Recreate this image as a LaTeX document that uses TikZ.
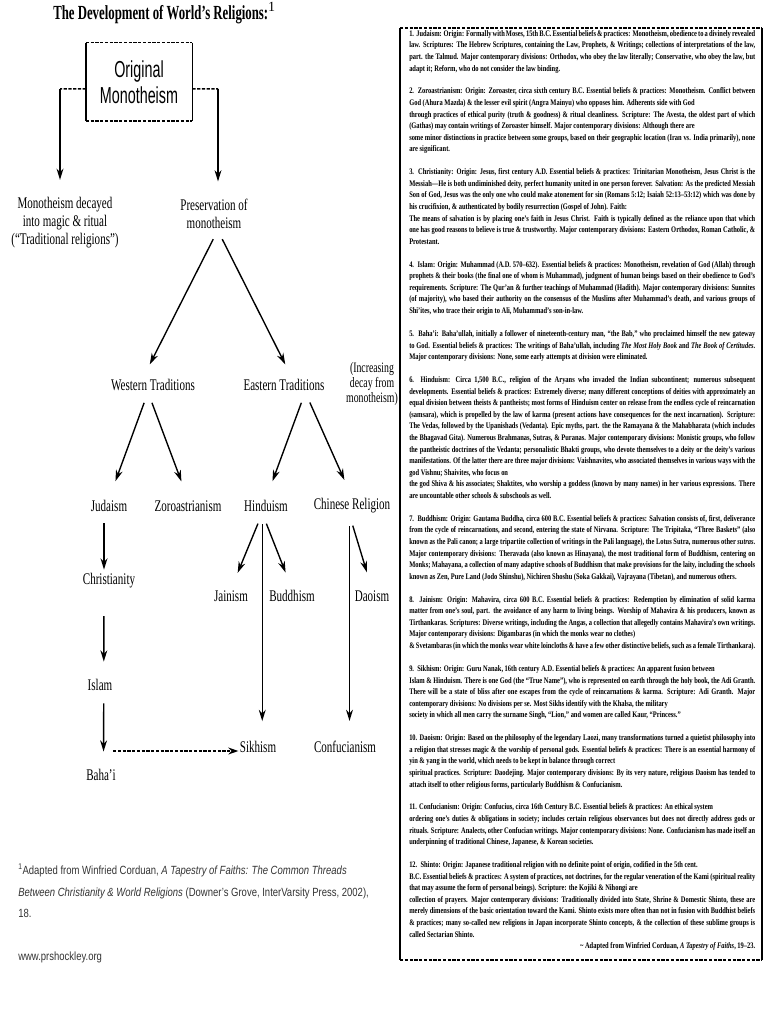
\documentclass[tikz,border=0pt]{standalone}
\usepackage{fontspec}
\setmainfont{Liberation Serif}
\newfontfamily\titlefont[FakeStretch=0.64]{Liberation Serif}
\newfontfamily\labelfont[FakeStretch=0.68]{Liberation Serif}
\newfontfamily\boxfont[FakeStretch=0.62]{Liberation Sans}
\newfontfamily\notefont[FakeStretch=0.76]{Liberation Serif}
\newfontfamily\footfont[FakeStretch=0.8]{Liberation Sans}
\usetikzlibrary{arrows.meta}

\begin{document}
\begin{tikzpicture}[x=0.8pt,y=-0.8pt,
  lbl/.style={font=\labelfont\fontsize{13}{14.4}\selectfont,inner sep=1pt,align=center},
  arr/.style={line width=1.1pt,-{Stealth[length=9pt,width=5.5pt]}},
  dashln/.style={line width=1.2pt,dash pattern=on 2.6pt off 1.2pt}]
\useasboundingbox (0,0) rectangle (768,1024);

% Title.
\node[font=\titlefont\bfseries\fontsize{16}{18}\selectfont,anchor=west,inner sep=0pt] (title) at (53,13)
  {The Development of World’s Religions:\textsuperscript{\normalfont 1}};

% Original box: solid sides, dashed top and bottom.
\node[font=\boxfont\fontsize{18.5}{21}\selectfont,align=center,minimum width=84.8pt,minimum height=62.4pt] (orig) at (139,82) {Original\\Monotheism};
\draw[line width=1.2pt] (orig.north west) -- (orig.south west) (orig.north east) -- (orig.south east);
\draw[dashln] (orig.north west) -- (orig.north east) (orig.south west) -- (orig.south east);

% First split.
\node[lbl] (decay) at (65,223) {Monotheism decayed\\into magic \& ritual\\(“Traditional religions”)};
\node[lbl] (pres) at (214,214) {Preservation of\\monotheism};
\coordinate (kL) at (60,89);
\coordinate (kR) at (218,89);
\draw[dashln] ([yshift=-5.6pt]orig.west) -- (kL);
\draw[dashln] ([yshift=-5.6pt]orig.east) -- (kR);
\draw[arr,shorten >=13pt] (kL) -- (kL |- decay.north);
\draw[arr,shorten >=13pt] (kR) -- (kR |- pres.north);

% Traditions.
\node[lbl] (west) at (153,385) {Western Traditions};
\node[lbl] (east) at (284,385) {Eastern Traditions};
\node[lbl,font=\labelfont\fontsize{11.5}{12}\selectfont] (decnote) at (372,384) {(Increasing\\decay from\\monotheism)};
\draw[arr,shorten <=8pt,shorten >=12pt] ([xshift=3pt]pres.south) -- ([xshift=-8pt]west.north);
\draw[arr,shorten <=8pt,shorten >=12pt] ([xshift=3pt]pres.south) -- ([xshift=6.4pt]east.north);

% Religions.
\node[lbl] (jud) at (109,506) {Judaism};
\node[lbl] (zor) at (188,506) {Zoroastrianism};
\node[lbl] (hin) at (266,506) {Hinduism};
\node[lbl] (chi) at (352,506) {Chinese Religion};
\draw[arr,shorten <=9pt,shorten >=15pt] ([xshift=-4pt]west.south) -- (jud.north);
\draw[arr,shorten <=9pt,shorten >=15pt] ([xshift=-4pt]west.south) -- (zor.north);
\draw[arr,shorten <=9pt,shorten >=15pt] ([xshift=17pt]east.south) -- (hin.north);
\draw[arr,shorten <=9pt,shorten >=15pt] ([xshift=17pt]east.south) -- (chi.north);

% Western line.
\node[lbl] (chr) at (109,581) {Christianity};
\node[lbl] (isl) at (100,685) {Islam};
\node[lbl] (bah) at (101,775) {Baha’i};
\draw[arr,shorten <=8pt,shorten >=2pt] ([xshift=-4pt]jud.south) -- ([xshift=-4pt]chr.north);
\draw[arr,shorten <=21pt,shorten >=13pt] ([xshift=-4pt]chr.south) -- ([xshift=3pt]isl.north);
\draw[arr,shorten <=9pt,shorten >=13pt] ([xshift=3pt]isl.south) -- ([xshift=2pt]bah.north);

% Eastern branches.
\node[lbl] (jai) at (231,596) {Jainism};
\node[lbl] (bud) at (292,596) {Buddhism};
\node[lbl] (dao) at (372,596) {Daoism};
\node[lbl] (sik) at (258,747) {Sikhism};
\node[lbl] (con) at (345,747) {Confucianism};
\draw[arr,shorten <=9pt,shorten >=14pt] ([xshift=-3pt]hin.south) -- (jai.north);
\draw[arr,shorten <=9pt,shorten >=14pt] ([xshift=-3pt]hin.south) -- (bud.north);
\draw[arr,shorten <=9pt,shorten >=15pt] ([xshift=-3pt]hin.south) -- ([xshift=-3pt]hin.south |- sik.north);
\draw[arr,shorten <=9pt,shorten >=14pt] ([xshift=-2pt]chi.south) -- (dao.north);
\draw[arr,shorten <=9pt,shorten >=15pt] ([xshift=-2pt]chi.south) -- ([xshift=-2pt]chi.south |- con.north);

% Baha'i to Sikhism.
\coordinate (bk) at (113,751);
\draw[dashln,-{Stealth[length=8pt,width=5.5pt]}] (bk) -- (bk -| sik.west);

% Footnote.
\node[anchor=north west,align=left,inner sep=0pt,text=black!80,font=\footfont\fontsize{9.5}{17.2}\selectfont] (fn) at (18,864)
  {\textsuperscript{1}Adapted from Winfried Corduan, \textit{A Tapestry of Faiths: The Common Threads}\\
   \textit{Between Christianity \& World Religions} (Downer’s Grove, InterVarsity Press, 2002),\\18.};
\node[anchor=west,inner sep=0pt,text=black!80,font=\footfont\fontsize{9.5}{11}\selectfont] (web) at (18,957) {www.prshockley.org};

% Notes panel.
\draw[line width=1.6pt] (400,28) -- (400,960) (762,28) -- (762,960);
\draw[dashln,line width=1.5pt] (400,28) -- (762,28) (400,960) -- (762,960);
\node[anchor=north west,inner sep=0pt,text width=276.8pt,align=justify,
      font=\notefont\bfseries\fontsize{6.8}{9.28}\selectfont] (notes) at (409,30) {%
\setlength{\parskip}{9pt}\hyphenpenalty=10000\exhyphenpenalty=10000\tolerance=5000\emergencystretch=2em
1.~~Judaism: Origin: Formally with Moses, 15th B.C. Essential beliefs \& practices: Monotheism, obedience to a divinely revealed law. Scriptures: The Hebrew Scriptures, containing the Law, Prophets, \& Writings; collections of interpretations of the law, part. the Talmud. Major contemporary divisions: Orthodox, who obey the law literally; Conservative, who obey the law, but adapt it; Reform, who do not consider the law binding.

2.~~Zoroastrianism: Origin: Zoroaster, circa sixth century B.C. Essential beliefs \& practices: Monotheism. Conflict between God (Ahura Mazda) \& the lesser evil spirit (Angra Mainyu) who opposes him. Adherents side with God\newline
through practices of ethical purity (truth \& goodness) \& ritual cleanliness. Scripture: The Avesta, the oldest part of which (Gathas) may contain writings of Zoroaster himself. Major contemporary divisions: Although there are\newline
some minor distinctions in practice between some groups, based on their geographic location (Iran vs. India primarily), none are significant.

3.~~Christianity: Origin: Jesus, first century A.D. Essential beliefs \& practices: Trinitarian Monotheism, Jesus Christ is the Messiah—He is both undiminished deity, perfect humanity united in one person forever. Salvation: As the predicted Messiah Son of God, Jesus was the only one who could make atonement for sin (Romans 5:12; Isaiah 52:13–53:12) which was done by his crucifixion, \& authenticated by bodily resurrection (Gospel of John). Faith:\newline
The means of salvation is by placing one’s faith in Jesus Christ. Faith is typically defined as the reliance upon that which one has good reasons to believe is true \& trustworthy. Major contemporary divisions: Eastern Orthodox, Roman Catholic, \& Protestant.

4.~~Islam: Origin: Muhammad (A.D. 570–632). Essential beliefs \& practices: Monotheism, revelation of God (Allah) through prophets \& their books (the final one of whom is Muhammad), judgment of human beings based on their obedience to God’s requirements. Scripture: The Qur’an \& further teachings of Muhammad (Hadith). Major contemporary divisions: Sunnites (of majority), who based their authority on the consensus of the Muslims after Muhammad’s death, and various groups of Shi’ites, who trace their origin to Ali, Muhammad’s son-in-law.

5.~~Baha’i: Baha’ullah, initially a follower of nineteenth-century man, “the Bab,” who proclaimed himself the new gateway to God. Essential beliefs \& practices: The writings of Baha’ullah, including \textit{The Most Holy Book} and \textit{The Book of Certitudes}. Major contemporary divisions: None, some early attempts at division were eliminated.

6.~~Hinduism: Circa 1,500 B.C., religion of the Aryans who invaded the Indian subcontinent; numerous subsequent developments. Essential beliefs \& practices: Extremely diverse; many different conceptions of deities with approximately an equal division between theists \& pantheists; most forms of Hinduism center on release from the endless cycle of reincarnation (samsara), which is propelled by the law of karma (present actions have consequences for the next incarnation). Scripture: The Vedas, followed by the Upanishads (Vedanta). Epic myths, part. the the Ramayana \& the Mahabharata (which includes the Bhagavad Gita). Numerous Brahmanas, Sutras, \& Puranas. Major contemporary divisions: Monistic groups, who follow the pantheistic doctrines of the Vedanta; personalistic Bhakti groups, who devote themselves to a deity or the deity’s various manifestations. Of the latter there are three major divisions: Vaishnavites, who associated themselves in various ways with the god Vishnu; Shaivites, who focus on\newline
the god Shiva \& his associates; Shaktites, who worship a goddess (known by many names) in her various expressions. There are uncountable other schools \& subschools as well.

7.~~Buddhism: Origin: Gautama Buddha, circa 600 B.C. Essential beliefs \& practices: Salvation consists of, first, deliverance from the cycle of reincarnations, and second, entering the state of Nirvana. Scripture: The Tripitaka, “Three Baskets” (also known as the Pali canon; a large tripartite collection of writings in the Pali language), the Lotus Sutra, numerous other \textit{sutras}. Major contemporary divisions: Theravada (also known as Hinayana), the most traditional form of Buddhism, centering on Monks; Mahayana, a collection of many adaptive schools of Buddhism that make provisions for the laity, including the schools known as Zen, Pure Land (Jodo Shinshu), Nichiren Shoshu (Soka Gakkai), Vajrayana (Tibetan), and numerous others.

8.~~Jainism: Origin: Mahavira, circa 600 B.C. Essential beliefs \& practices: Redemption by elimination of solid karma matter from one’s soul, part. the avoidance of any harm to living beings. Worship of Mahavira \& his producers, known as Tirthankaras. Scriptures: Diverse writings, including the Angas, a collection that allegedly contains Mahavira’s own writings. Major contemporary divisions: Digambaras (in which the monks wear no clothes)\newline
\& Svetambaras (in which the monks wear white loincloths \& have a few other distinctive beliefs, such as a female Tirthankara).

9.~~Sikhism: Origin: Guru Nanak, 16th century A.D. Essential beliefs \& practices: An apparent fusion between\newline
Islam \& Hinduism. There is one God (the “True Name”), who is represented on earth through the holy book, the Adi Granth. There will be a state of bliss after one escapes from the cycle of reincarnations \& karma. Scripture: Adi Granth. Major contemporary divisions: No divisions per se. Most Sikhs identify with the Khalsa, the military\newline
society in which all men carry the surname Singh, “Lion,” and women are called Kaur, “Princess.”

10. Daoism: Origin: Based on the philosophy of the legendary Laozi, many transformations turned a quietist philosophy into a religion that stresses magic \& the worship of personal gods. Essential beliefs \& practices: There is an essential harmony of yin \& yang in the world, which needs to be kept in balance through correct\newline
spiritual practices. Scripture: Daodejing. Major contemporary divisions: By its very nature, religious Daoism has tended to attach itself to other religious forms, particularly Buddhism \& Confucianism.

11. Confucianism: Origin: Confucius, circa 16th Century B.C. Essential beliefs \& practices: An ethical system\newline
ordering one’s duties \& obligations in society; includes certain religious observances but does not directly address gods or rituals. Scripture: Analects, other Confucian writings. Major contemporary divisions: None. Confucianism has made itself an underpinning of traditional Chinese, Japanese, \& Korean societies.

12.~~Shinto: Origin: Japanese traditional religion with no definite point of origin, codified in the 5th cent.\newline
B.C. Essential beliefs \& practices: A system of practices, not doctrines, for the regular veneration of the Kami (spiritual reality that may assume the form of personal beings). Scripture: the Kojiki \& Nihongi are\newline
collection of prayers. Major contemporary divisions: Traditionally divided into State, Shrine \& Domestic Shinto, these are merely dimensions of the basic orientation toward the Kami. Shinto exists more often than not in fusion with Buddhist beliefs \& practices; many so-called new religions in Japan incorporate Shinto concepts, \& the collection of these sublime groups is called Sectarian Shinto.\newline
\hspace*{\fill}\textasciitilde{} Adapted from Winfried Corduan, \textit{A Tapestry of Faiths}, 19–23.\hspace*{7pt}};
\end{tikzpicture}
\end{document}
